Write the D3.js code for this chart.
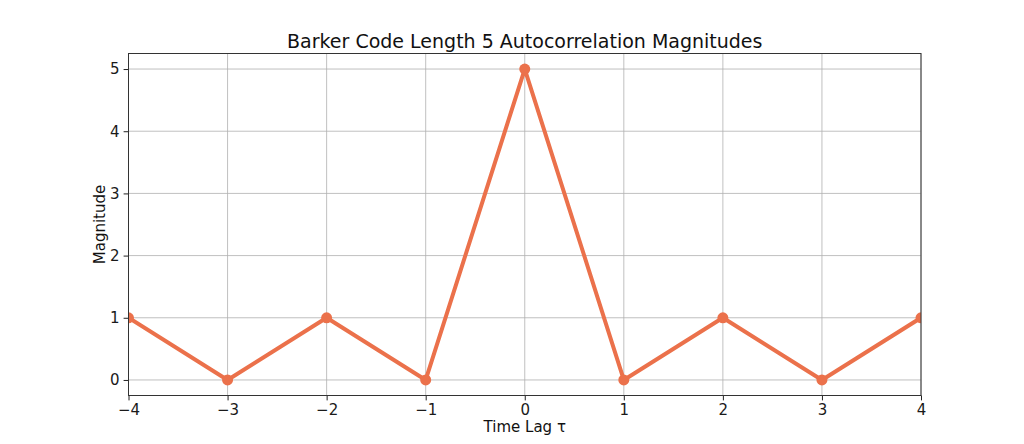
<!DOCTYPE html>
<html>
<head>
<meta charset="utf-8">
<script src="https://cdn.jsdelivr.net/npm/d3@7"></script>
<style>
  body { margin: 0; background: #fff; }
  svg { display: block; font-family: "DejaVu Sans", sans-serif; }
</style>
</head>
<body>
<svg id="chart" width="1024" height="444"></svg>
<script>
// Chart data
const lags = [-4, -3, -2, -1, 0, 1, 2, 3, 4];
const magnitudes = [1, 0, 1, 0, 5, 0, 1, 0, 1];
const xTicks = [-4, -3, -2, -1, 0, 1, 2, 3, 4];
const yTicks = [0, 1, 2, 3, 4, 5];

const width = 1024, height = 444;
const margin = { top: 53.5, right: 103, bottom: 48.5, left: 128.5 };
const innerW = width - margin.left - margin.right;
const innerH = height - margin.top - margin.bottom;
const lineColor = "#eb714b";

const svg = d3.select("#chart");

const x = d3.scaleLinear().domain([-4, 4]).range([0, innerW]);
const y = d3.scaleLinear().domain([-0.25, 5.25]).range([innerH, 0]);

const g = svg.append("g")
  .attr("transform", `translate(${margin.left},${margin.top})`);

// Grid lines
g.append("g")
  .selectAll("line")
  .data(xTicks)
  .join("line")
  .attr("x1", d => x(d)).attr("x2", d => x(d))
  .attr("y1", 0).attr("y2", innerH)
  .attr("stroke", "#b0b0b0").attr("stroke-width", 0.8);

g.append("g")
  .selectAll("line")
  .data(yTicks)
  .join("line")
  .attr("x1", 0).attr("x2", innerW)
  .attr("y1", d => y(d)).attr("y2", d => y(d))
  .attr("stroke", "#b0b0b0").attr("stroke-width", 0.8);

// Clip to plot area
svg.append("defs").append("clipPath").attr("id", "plot-clip")
  .append("rect").attr("width", innerW).attr("height", innerH);

const plot = g.append("g").attr("clip-path", "url(#plot-clip)");

const line = d3.line()
  .x((d, i) => x(lags[i]))
  .y(d => y(d));

plot.append("path")
  .datum(magnitudes)
  .attr("d", line)
  .attr("fill", "none")
  .attr("stroke", lineColor)
  .attr("stroke-width", 4)
  .attr("stroke-linejoin", "round");

plot.selectAll("circle")
  .data(magnitudes)
  .join("circle")
  .attr("cx", (d, i) => x(lags[i]))
  .attr("cy", d => y(d))
  .attr("r", 5.5)
  .attr("fill", lineColor);

// Axes
const fmt = d => d < 0 ? "\u2212" + Math.abs(d) : String(d);

const xAxis = g.append("g")
  .attr("transform", `translate(0,${innerH})`)
  .call(d3.axisBottom(x).tickValues(xTicks).tickFormat(fmt).tickSize(4.9).tickPadding(4));

const yAxis = g.append("g")
  .call(d3.axisLeft(y).tickValues(yTicks).tickFormat(fmt).tickSize(4.9).tickPadding(4));

[xAxis, yAxis].forEach(ax => {
  ax.select(".domain").remove();
  ax.selectAll("line").attr("stroke", "#222").attr("stroke-width", 1);
  ax.selectAll("text")
    .attr("fill", "#1a1a1a")
    .style("font-size", "15px")
    .style("font-family", "DejaVu Sans, sans-serif");
});

// Frame
g.append("rect")
  .attr("width", innerW).attr("height", innerH)
  .attr("fill", "none").attr("stroke", "#333").attr("stroke-width", 1);

// Title and labels
svg.append("text")
  .attr("x", margin.left + innerW / 2)
  .attr("y", 48)
  .attr("text-anchor", "middle")
  .style("font-size", "19px")
  .attr("fill", "#111")
  .text("Barker Code Length 5 Autocorrelation Magnitudes");

svg.append("text")
  .attr("x", margin.left + innerW / 2)
  .attr("y", 432)
  .attr("text-anchor", "middle")
  .style("font-size", "15px")
  .attr("fill", "#111")
  .text("Time Lag \u03c4");

svg.append("text")
  .attr("transform", `translate(105,${margin.top + innerH / 2}) rotate(-90)`)
  .attr("text-anchor", "middle")
  .style("font-size", "15px")
  .attr("fill", "#111")
  .text("Magnitude");
</script>
</body>
</html>
